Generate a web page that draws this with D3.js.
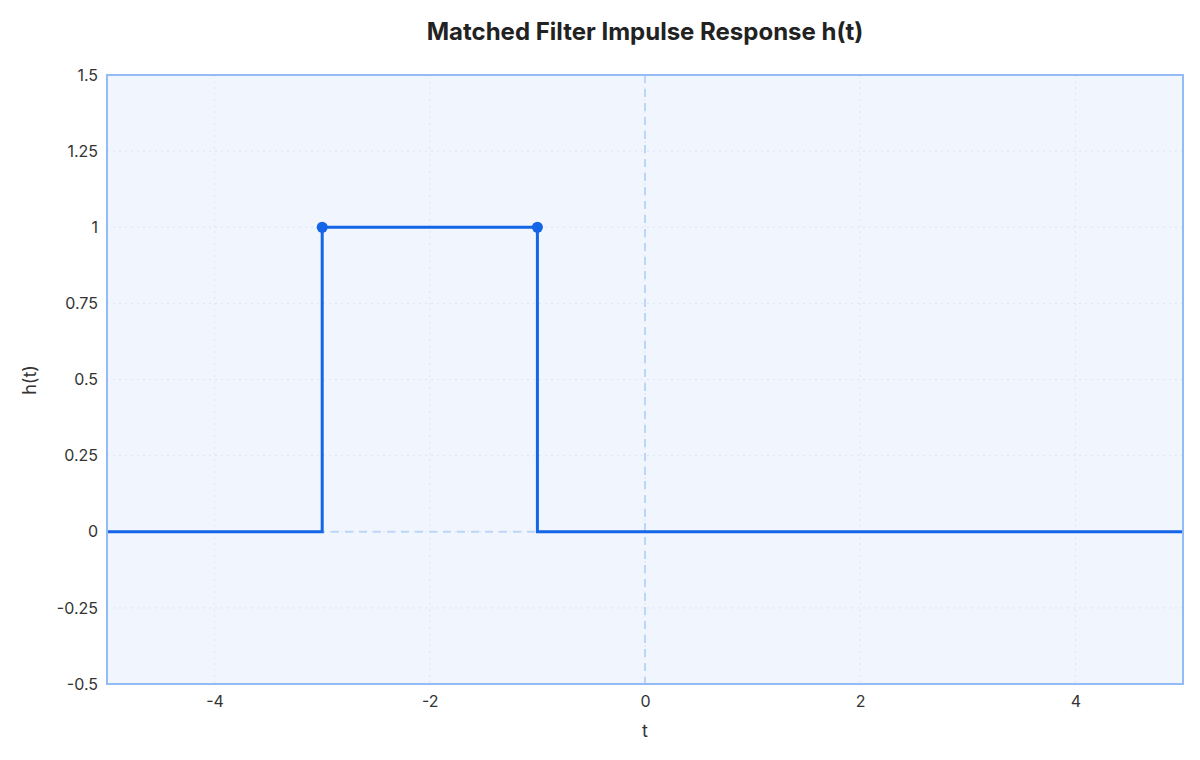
<!DOCTYPE html>
<html><head><meta charset="utf-8">
<script src="https://cdn.jsdelivr.net/npm/d3@7"></script>
<style>body{margin:0;background:#fff;font-family:Inter,"Noto Sans",sans-serif;}</style>
</head><body><div id="chart"></div>
<script>
// data
var tValues = [-5, -3, -3, -1, -1, 5];
var hValues = [0, 0, 1, 1, 0, 0];
var markerT = [-3, -1];
var markerH = [1, 1];
var xTicks = [-4, -2, 0, 2, 4];
var yTicks = [-0.5, -0.25, 0, 0.25, 0.5, 0.75, 1, 1.25, 1.5];

var margin = {top: 75, right: 17, bottom: 76, left: 107},
  width = 1200 - margin.left - margin.right,
  height = 760 - margin.top - margin.bottom;

var root = d3.select("#chart").append("svg")
  .attr("width", 1200).attr("height", 760);
var svg = root.append("g")
  .attr("transform", "translate(" + margin.left + "," + margin.top + ")");

var x = d3.scaleLinear().domain([-5, 5]).range([0, width]);
var y = d3.scaleLinear().domain([-0.5, 1.5]).range([height, 0]);

svg.append("rect").attr("width", width).attr("height", height).attr("fill", "#f1f6fe");

// grid
svg.selectAll(".gx").data(xTicks).enter().append("line")
  .attr("x1", d => x(d)).attr("x2", d => x(d)).attr("y1", 0).attr("y2", height)
  .attr("stroke", "#dde5f2").attr("stroke-dasharray", "2,4");
svg.selectAll(".gy").data(yTicks).enter().append("line")
  .attr("y1", d => y(d)).attr("y2", d => y(d)).attr("x1", 0).attr("x2", width)
  .attr("stroke", "#dde5f2").attr("stroke-dasharray", "2,4");

// zero lines
svg.append("line").attr("x1", 0).attr("x2", width).attr("y1", y(0)).attr("y2", y(0))
  .attr("stroke", "#bcd5f8").attr("stroke-width", 2).attr("stroke-dasharray", "8,6");
svg.append("line").attr("x1", x(0)).attr("x2", x(0)).attr("y1", 0).attr("y2", height)
  .attr("stroke", "#bcd5f8").attr("stroke-width", 2).attr("stroke-dasharray", "8,6");

// signal
var pts = tValues.map((t, i) => [t, hValues[i]]);
svg.append("path").datum(pts)
  .attr("fill", "none").attr("stroke", "#1565e8").attr("stroke-width", 3)
  .attr("d", d3.line().x(d => x(d[0])).y(d => y(d[1])));
svg.selectAll(".dot").data(markerT).enter().append("circle")
  .attr("cx", d => x(d)).attr("cy", (d, i) => y(markerH[i])).attr("r", 5.5)
  .attr("fill", "#1565e8");

// border
svg.append("rect").attr("width", width).attr("height", height)
  .attr("fill", "none").attr("stroke", "#93bbf6").attr("stroke-width", 2);

// axes
var xa = svg.append("g").attr("transform", "translate(0," + height + ")")
  .call(d3.axisBottom(x).tickValues(xTicks).tickSize(0).tickPadding(12).tickFormat(d => String(d)));
var ya = svg.append("g")
  .call(d3.axisLeft(y).tickValues(yTicks).tickSize(0).tickPadding(9).tickFormat(d => String(d)));
[xa, ya].forEach(a => {
  a.select(".domain").remove();
  a.selectAll("text").attr("font-size", 16).attr("fill", "#333").attr("font-family", "Inter,sans-serif");
});

root.append("text").attr("x", 645).attr("y", 40).attr("text-anchor", "middle")
  .attr("font-size", 24).attr("font-weight", 700).attr("fill", "#222")
  .text("Matched Filter Impulse Response h(t)");
root.append("text").attr("x", 645).attr("y", 737).attr("text-anchor", "middle")
  .attr("font-size", 18).attr("fill", "#333").text("t");
root.append("text").attr("transform", "translate(36,380) rotate(-90)").attr("text-anchor", "middle")
  .attr("font-size", 18).attr("fill", "#333").text("h(t)");
</script></body></html>
